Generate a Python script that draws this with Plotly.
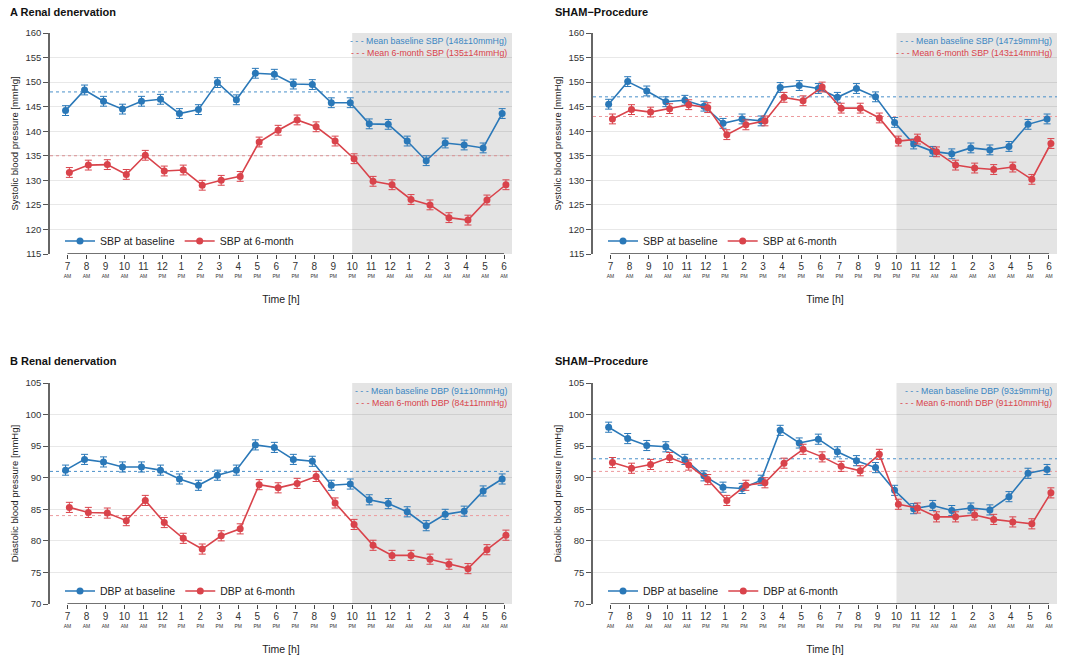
import plotly.graph_objects as go

# ---------------- data ----------------
hours = ["7", "8", "9", "10", "11", "12", "1", "2", "3", "4", "5", "6",
         "7", "8", "9", "10", "11", "12", "1", "2", "3", "4", "5", "6"]
ampm = ["AM", "AM", "AM", "AM", "AM", "PM", "PM", "PM", "PM", "PM", "PM", "PM",
        "PM", "PM", "PM", "PM", "PM", "AM", "AM", "AM", "AM", "AM", "AM", "AM"]

rdn_sbp_base = [144.2, 148.4, 146.1, 144.5, 146.1, 146.5, 143.6, 144.4, 149.9, 146.4, 151.8, 151.6,
                149.6, 149.5, 145.8, 145.8, 141.5, 141.4, 138.0, 134.0, 137.6, 137.2, 136.6, 143.6]
rdn_sbp_6m = [131.6, 133.1, 133.2, 131.2, 135.1, 131.9, 132.1, 129.0, 130.0, 130.8, 137.8, 140.2,
              142.3, 140.9, 138.0, 134.4, 129.8, 129.1, 126.1, 125.0, 122.4, 121.9, 126.0, 129.1]
sham_sbp_base = [145.5, 150.1, 148.2, 146.0, 146.3, 145.1, 141.6, 142.5, 142.1, 148.9, 149.3, 148.7,
                 146.9, 148.7, 147.0, 141.8, 137.4, 135.9, 135.4, 136.6, 136.2, 136.9, 141.4, 142.5]
sham_sbp_6m = [142.5, 144.4, 143.9, 144.6, 145.4, 144.8, 139.3, 141.3, 142.1, 146.9, 146.2, 149.0,
               144.7, 144.7, 142.7, 138.0, 138.4, 135.8, 133.1, 132.5, 132.2, 132.7, 130.2, 137.5]
rdn_dbp_base = [91.2, 92.9, 92.5, 91.7, 91.7, 91.2, 89.8, 88.8, 90.4, 91.2, 95.2, 94.8,
                92.9, 92.6, 88.8, 89.0, 86.5, 85.9, 84.6, 82.4, 84.2, 84.7, 87.9, 89.8]
rdn_dbp_6m = [85.3, 84.5, 84.4, 83.2, 86.4, 82.9, 80.4, 78.7, 80.8, 81.9, 88.9, 88.4,
              89.1, 90.2, 86.0, 82.6, 79.3, 77.7, 77.7, 77.1, 76.3, 75.6, 78.6, 80.9]
sham_dbp_base = [98.0, 96.2, 95.1, 94.9, 92.9, 90.3, 88.5, 88.3, 89.6, 97.5, 95.5, 96.1,
                 94.1, 92.7, 91.6, 88.0, 85.1, 85.6, 84.8, 85.2, 84.9, 87.0, 90.7, 91.3]
sham_dbp_6m = [92.4, 91.5, 92.1, 93.2, 92.0, 89.7, 86.4, 88.8, 89.2, 92.3, 94.5, 93.3,
               91.8, 91.1, 93.7, 85.8, 85.2, 83.8, 83.8, 84.1, 83.4, 83.0, 82.7, 87.6]

sbp_err = 1.0
dbp_err = 0.8

means = {
    "A": (148, 135, "Mean baseline SBP (148±10mmHg)", "Mean 6-month SBP (135±14mmHg)"),
    "B": (147, 143, "Mean baseline SBP (147±9mmHg)", "Mean 6-month SBP (143±14mmHg)"),
    "C": (91, 84, "Mean baseline DBP (91±10mmHg)", "Mean 6-month DBP (84±11mmHg)"),
    "D": (93, 91, "Mean baseline DBP (93±9mmHg)", "Mean 6-month DBP (91±10mmHg)"),
}
titles = {"A": "A Renal denervation", "B": "SHAM−Procedure",
          "C": "B Renal denervation", "D": "SHAM−Procedure"}
night_start = 15  # 10 PM

# ---------------- style ----------------
W, H = 1080, 659
BLUE = "#2a78b8"
RED = "#d9434b"
BLUE_TXT = "#3a86c2"
RED_TXT = "#d9434b"
FONT = "Liberation Sans, Arial, sans-serif"
XMIN, XMAX = -0.92, 23.42

fig = go.Figure()

panels = [
    ("A", "", (50, 512), (33, 254), (115, 160), rdn_sbp_base, rdn_sbp_6m, sbp_err, "SBP", "Systolic blood pressure [mmHg]"),
    ("B", "2", (593, 1057), (33, 254), (115, 160), sham_sbp_base, sham_sbp_6m, sbp_err, "SBP", "Systolic blood pressure [mmHg]"),
    ("C", "3", (50, 512), (383, 604), (70, 105), rdn_dbp_base, rdn_dbp_6m, dbp_err, "DBP", "Diastolic blood pressure [mmHg]"),
    ("D", "4", (593, 1057), (383, 604), (70, 105), sham_dbp_base, sham_dbp_6m, dbp_err, "DBP", "Diastolic blood pressure [mmHg]"),
]

ticktext = [f"<span style='font-size:10px'>{h}</span><br><span style='font-size:5px'>{a}</span>"
            for h, a in zip(hours, ampm)]
idx = list(range(len(hours)))

shapes = []
annotations = []
layout_axes = {}

for n, (key, sfx, xd, yd, yr, base, six, err, kind, ytitle) in enumerate(panels):
    xa = "x" + sfx
    ya = "y" + sfx
    leg = "legend" + ("" if n == 0 else str(n + 1))
    xdom = [xd[0] / W, xd[1] / W]
    ydom = [1 - yd[1] / H, 1 - yd[0] / H]

    for vals, col, name, off in [(base, BLUE, f"{kind} at baseline", -0.1),
                                 (six, RED, f"{kind} at 6-month", 0.1)]:
        fig.add_trace(go.Scatter(
            x=[i + off for i in idx], y=vals, mode="lines+markers", name=name,
            line=dict(color=col, width=1.6), marker=dict(color=col, size=7),
            error_y=dict(type="constant", value=err, color=col, thickness=1, width=3.5),
            xaxis=xa, yaxis=ya, legend=leg, showlegend=True,
        ))

    layout_axes["xaxis" + sfx] = dict(
        domain=xdom, anchor=ya, range=[XMIN, XMAX], tickmode="array", tickvals=idx,
        ticktext=ticktext, ticks="outside", ticklen=4, tickcolor="#444", tickwidth=1,
        ticklabelstandoff=4,
        showline=False, showgrid=False, zeroline=False, automargin=False,
        tickfont=dict(family=FONT, size=6, color="#333"),
        title=dict(text="Time [h]", font=dict(family=FONT, size=10.5, color="#222"), standoff=17),
    )
    layout_axes["yaxis" + sfx] = dict(
        domain=ydom, anchor=xa, range=list(yr), tickmode="linear", tick0=yr[0], dtick=5,
        ticks="outside", ticklen=5, tickcolor="#555", tickwidth=1,
        showline=True, linecolor="#666", linewidth=1.5, automargin=False,
        showgrid=True, gridcolor="rgba(0,0,0,0.09)", gridwidth=1, zeroline=False,
        tickfont=dict(family=FONT, size=9.5, color="#333"),
        title=dict(text=ytitle, font=dict(family=FONT, size=9.5, color="#222"), standoff=5),
    )

    # night shading
    shapes.append(dict(type="rect", xref=xa, yref=ya, x0=night_start, x1=XMAX,
                       y0=yr[0], y1=yr[1], fillcolor="#e4e4e4", line=dict(width=0), layer="below"))
    # x axis line spanning tick range
    shapes.append(dict(type="line", xref=xa, yref=ya, x0=idx[0], x1=idx[-1], y0=yr[0], y1=yr[0],
                       line=dict(color="#444", width=1.3), layer="above"))
    mb, m6, tb, t6 = means[key]
    shapes.append(dict(type="line", xref=xa, yref=ya, x0=XMIN, x1=XMAX, y0=mb, y1=mb,
                       line=dict(color="#4a90c9", width=1, dash="3px,3px"), layer="below"))
    shapes.append(dict(type="line", xref=xa, yref=ya, x0=XMIN, x1=XMAX, y0=m6, y1=m6,
                       line=dict(color="#ec9a9d", width=1, dash="3px,3px"), layer="below"))

    # mean labels
    xr = (xd[1] - 3) / W
    annotations.append(dict(xref="paper", yref="paper", x=xr, y=1 - (yd[0] + 8) / H,
                            xanchor="right", yanchor="middle", showarrow=False,
                            text=f"- - - {tb}", font=dict(family=FONT, size=8.8, color=BLUE_TXT)))
    annotations.append(dict(xref="paper", yref="paper", x=xr, y=1 - (yd[0] + 19.5) / H,
                            xanchor="right", yanchor="middle", showarrow=False,
                            text=f"- - - {t6}", font=dict(family=FONT, size=8.8, color=RED_TXT)))
    # panel title
    tx = 8 if xd[0] < 300 else 553
    ty = 12 if yd[0] < 300 else 361
    annotations.append(dict(xref="paper", yref="paper", x=tx / W, y=1 - ty / H, xanchor="left",
                            yanchor="middle", showarrow=False, text=f"<b>{titles[key]}</b>",
                            font=dict(family=FONT, size=11, color="#111")))

    # legend placement
    lx = (xd[0] + 10) / W
    ly = 1 - (yd[1] - 13) / H
    layout_axes[leg] = dict(x=lx, y=ly, xanchor="left", yanchor="middle", orientation="h",
                            bgcolor="rgba(0,0,0,0)", font=dict(family=FONT, size=10.5, color="#222"),
                            itemwidth=30, tracegroupgap=0, itemclick=False)

fig.update_layout(
    width=W, height=H, margin=dict(l=0, r=0, t=0, b=0, autoexpand=False),
    paper_bgcolor="white", plot_bgcolor="white",
    shapes=shapes, annotations=annotations,
    **layout_axes,
)

fig.write_html("out.html", config={"displayModeBar": False},
               post_script="document.body.style.margin='0px';")
